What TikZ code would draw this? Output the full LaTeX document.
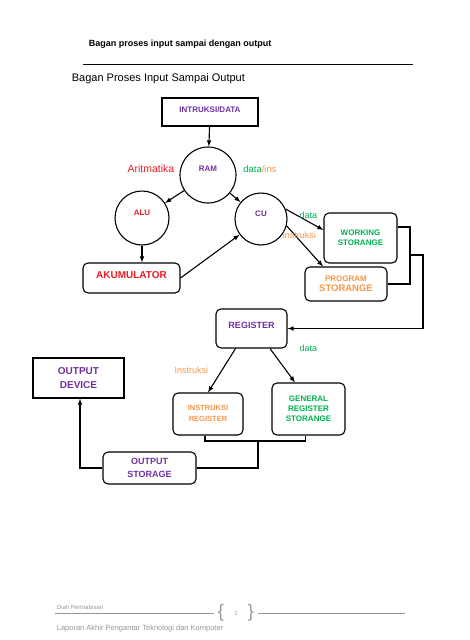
\documentclass[tikz,border=0pt]{standalone}
\usepackage{fontspec}
\setmainfont{Liberation Sans}
\definecolor{ungu}{RGB}{112,48,160}
\definecolor{merah}{RGB}{232,28,36}
\definecolor{hijau}{RGB}{0,176,80}
\definecolor{oranye}{RGB}{247,150,70}
\definecolor{abu}{RGB}{150,150,150}
\usetikzlibrary{positioning}
\tikzset{
  kotak/.style={draw, rectangle, line width=1.1pt, align=center, font=\bfseries\fontsize{8}{10}\selectfont},
  kotakbulat/.style={kotak, rounded corners=5pt},
  bulat/.style={draw, circle, line width=1.1pt, inner sep=0pt, font=\bfseries\fontsize{8}{10}\selectfont},
  ket/.style={font=\fontsize{9}{10}\selectfont, inner sep=1pt},
}
\begin{document}
\begin{tikzpicture}[x=1pt, y=-1pt, >=latex, line width=1.1pt]
  \useasboundingbox (0,0) rectangle (469,640);
  % kepala halaman
  \node[anchor=west, font=\bfseries\fontsize{9}{10}\selectfont] (kepala) at (85,44) {Bagan proses input sampai dengan output};
  \draw[line width=0.9pt] (83,64) -- (413,64);
  \node[anchor=west, font=\fontsize{11}{13}\selectfont] (judul) at (68,79) {Bagan Proses Input Sampai Output};

  % bagian atas
  \node[kotak, text=ungu, minimum width=96, minimum height=28] (intruksi) at (210,112) {\raisebox{4pt}{INTRUKSI/DATA}};
  \node[bulat, minimum size=56, text=ungu] (ram) at (208,175) {\raisebox{12pt}{RAM}};
  \node[bulat, minimum size=54, text=merah] (alu) at (142,218) {\raisebox{11pt}{ALU}};
  \node[bulat, minimum size=52, text=ungu] (cu) at (261,219) {\raisebox{11pt}{CU}};
  \node[kotakbulat, text=merah, minimum width=97, minimum height=30, font=\bfseries\fontsize{10}{12}\selectfont] (akumulator) at (131.5,278) {\raisebox{6pt}{AKUMULATOR}};
  \node[kotakbulat, text=hijau, minimum width=73, minimum height=50] (working) at (360.5,238) {\raisebox{6pt}{\begin{tabular}{@{}c@{}}WORKING\\STORANGE\end{tabular}}};
  \node[kotakbulat, text=oranye, minimum width=82, minimum height=34] (program) at (346,284) {PROGRAM\\{\fontsize{9.5}{11}\selectfont STORANGE}};
  \node[kotakbulat, text=ungu, minimum width=71, minimum height=39, font=\bfseries\fontsize{9}{11}\selectfont] (register) at (251.5,328.5) {\raisebox{6pt}{REGISTER}};

  \node[ket, text=merah, font=\fontsize{10.5}{12}\selectfont] (aritmatika) at (151,169) {Aritmatika};
  \node[ket, font=\fontsize{9.5}{11}\selectfont] (datains) at (260,169) {\textcolor{hijau}{data}\textcolor{oranye}{/ins}};

  \draw[->] (intruksi) -- (ram);
  \draw[->] (ram) -- (alu);
  \draw[->] (ram) -- (cu);
  \draw[->] (alu.south) -- (alu.south |- akumulator.north);
  \draw[->] (akumulator.east) -- (cu);
  \draw[->] (cu.22) -- node[ket, text=hijau, above=1pt, pos=0.6] {data} ([yshift=8pt]working.west);
  \draw[->] (cu.-15) -- node[ket, text=oranye, above=0pt, pos=0.35] {instruksi} ([xshift=-23pt]program.north);

  \coordinate (sambung) at (410,255);
  \draw ([yshift=11pt]working.east) -| (sambung) |- (program.east);
  \draw[->] (sambung) -- ++(13,0) |- (register.east);

  % bagian bawah
  \node[kotakbulat, text=oranye, minimum width=70, minimum height=42, font=\bfseries\fontsize{7.5}{11}\selectfont] (instreg) at (208,414) {\raisebox{4pt}{\begin{tabular}{@{}c@{}}INSTRUKSI\\REGISTER\end{tabular}}};
  \node[kotakbulat, text=hijau, minimum width=73, minimum height=52] (general) at (308.5,409) {GENERAL\\REGISTER\\STORANGE};
  \node[kotak, text=ungu, minimum width=91, minimum height=40, font=\bfseries\fontsize{10}{14}\selectfont] (outdev) at (78.5,378) {OUTPUT\\DEVICE};
  \node[kotakbulat, text=ungu, minimum width=93, minimum height=32, font=\bfseries\fontsize{9}{13}\selectfont] (outstor) at (149.5,468) {OUTPUT\\STORAGE};

  \draw[->] ([xshift=-16pt]register.south) -- node[ket, text=oranye, left=12pt] {Instruksi} (instreg.north);
  \draw[->] ([xshift=18.5pt]register.south) -- node[ket, text=hijau, pos=0, anchor=west, xshift=28pt] {data} ([xshift=-13.5pt]general.north);
  \coordinate (tengah) at (258,441);
  \draw ([xshift=-3pt]instreg.south) |- (tengah) -| ([xshift=-3pt]general.south);
  \draw (tengah) |- (outstor.east);
  \draw[->] (outstor.west) -| ([xshift=1.5pt]outdev.south);

  % kaki halaman
  \node[anchor=west, text=abu, font=\fontsize{6}{7}\selectfont] (penulis) at (53,607) {Diah Permatasari};
  \node[anchor=west, text=abu, font=\fontsize{7.5}{9}\selectfont] (laporan) at (53,629) {Laporan Akhir Pengantar Teknologi dan Komputer};
  \node[text=abu, font=\fontsize{18}{20}\selectfont] (kurungkiri) at (221,613) {\{};
  \node[text=abu, font=\fontsize{6}{7}\selectfont] (halaman) at (236,613) {1};
  \node[text=abu, font=\fontsize{18}{20}\selectfont] (kurungkanan) at (251,613) {\}};
  \draw[abu, line width=0.6pt] (55,613) -- (kurungkiri.west);
  \draw[abu, line width=0.6pt] (kurungkanan.east) -- (405,613);
\end{tikzpicture}
\end{document}
